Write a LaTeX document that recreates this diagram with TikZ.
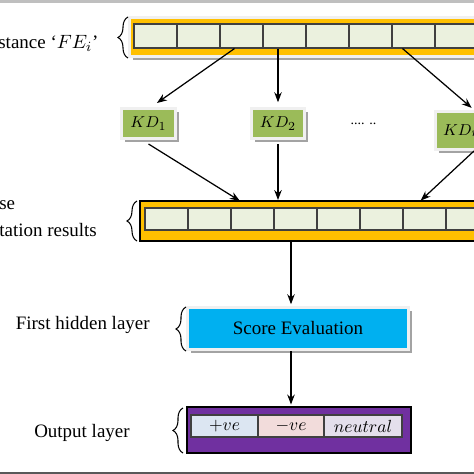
\documentclass[tikz,border=0pt]{standalone}
\usepackage{fontspec}
\setmainfont{Liberation Serif}
\usepackage{tikz}
\usetikzlibrary{arrows.meta, positioning, calc, shadows, decorations.pathreplacing}

\definecolor{barorange}{HTML}{FFC000}
\definecolor{cellfill}{HTML}{EBF1DE}
\definecolor{cellline}{HTML}{404040}
\definecolor{kdgreen}{HTML}{9BBB59}
\definecolor{scorecyan}{HTML}{00B0F0}
\definecolor{outpurple}{HTML}{7030A0}
\definecolor{framegray}{HTML}{F0F0F0}
\definecolor{shadowgray}{HTML}{A3A3A3}
\definecolor{posblue}{HTML}{DCE6F2}
\definecolor{negpink}{HTML}{F2DCDB}
\definecolor{neulav}{HTML}{E4DFEC}
\definecolor{topband}{HTML}{BFBFBF}
\definecolor{botband}{HTML}{595959}

\begin{document}
\begin{tikzpicture}[x=0.02cm, y=-0.02cm,
  every node/.style={font=\fontsize{10.8}{14.2}\selectfont},
  framed/.style={draw=framegray, line width=0.06cm,
    drop shadow={shadow xshift=0.07cm, shadow yshift=-0.07cm, fill=shadowgray, opacity=1}},
  cell/.style={draw=cellline, fill=cellfill, line width=0.6pt, minimum width=0.86cm, inner sep=0pt},
  kdbox/.style={framed, fill=kdgreen, minimum width=1.08cm, minimum height=0.6cm, inner sep=0pt, font=\fontsize{9.5}{12}\selectfont},
  outcell/.style={draw=cellline, line width=0.6pt, minimum height=0.44cm, inner sep=0pt, font=\fontsize{10}{12}\selectfont},
  arr/.style={-{Stealth[length=0.2cm, width=0.15cm]}, line width=0.7pt, shorten >=1pt},
  brc/.style={decorate, decoration={brace, amplitude=0.2cm}, line width=0.6pt},
  lbl/.style={inner sep=0pt}]
\useasboundingbox (0,0) rectangle (474,474);
\clip (0,0) rectangle (474,474);

% grey bands
\fill[topband] (0,0) rectangle (474,3);
\fill[botband] (0,472) rectangle (474,474);

% input instance
\node[framed, fill=barorange, minimum width=7.81cm, minimum height=0.78cm] (inst) at (324.75,37) {};
\foreach \i in {1,...,9}
  \node[cell, minimum height=0.48cm] (t\i) at ({112.5+43*\i},36) {};
\draw[brc] (128,58) -- (128,17);
\node[lbl, anchor=west] (instlbl) at (-2,43) {stance `$FE_i$'};

% knowledge discovery
\node[kdbox] (kd1) at (148.5,123.5) {$KD_1$};
\node[kdbox] (kd2) at (278,123.5) {$KD_2$};
\node[right=0.76cm of kd2, font=\fontsize{8}{10}\selectfont] (dots) {.... ..};
\node[kdbox, minimum height=0.76cm] (kdn) at (462,130.5) {$KD_n$};

\draw[arr] ($(t3.south)+(-7,0)$) -- ($(kd1.north)+(7,-3)$);
\draw[arr] ($(t4.south)+(-6.5,0)$) -- ($(kd2.north)+(0,-3)$);
\draw[arr] ($(t7.south)+(-11,0)$) -- ($(kdn.north)+(11,-1)$);

% results
\node[draw=black, line width=0.8pt, fill=barorange, minimum width=7.6cm, minimum height=0.8cm] (res) at (330,221) {};
\foreach \i in {1,...,9}
  \node[cell, minimum height=0.44cm] (r\i) at ({123.5+43*\i},219) {};
\draw[brc] (137,241) -- (137,201);
\node[lbl, anchor=west] (reslbl) at (-1,230) {tation results};
\node[lbl, anchor=west] (reslbltop) at (-1,205) {se};

\draw[arr] ($(kd1.south)+(0,4)$) -- ($(res.north west)+(102,1.5)$);
\draw[arr] ($(kd2.south)+(0,4)$) -- ($(kd2.south |- res.north)+(0,1.5)$);
\draw[arr] ($(kdn.south)+(12,0)$) -- ($(res.north west)+(280,1.5)$);

% first hidden layer
\node[framed, fill=scorecyan, minimum width=4.42cm, minimum height=0.84cm] (score) at (298,328.5) {Score Evaluation};
\draw[brc] (186,351) -- (186,307);
\node[lbl, anchor=east] (hidlbl) at (150,325) {First hidden layer};
\coordinate (sx) at ($(score.north)+(-7,0)$);
\draw[arr] (res.south -| sx) -- (sx);

% output layer
\node[draw=black, line width=0.8pt, fill=outpurple, minimum width=4.48cm, minimum height=0.92cm] (outl) at (299,430) {};
\node[outcell, fill=posblue, minimum width=1.34cm] (pos) at (224.5,426) {$+ve$};
\node[outcell, fill=negpink, minimum width=1.32cm] (neg) at (291,426) {$-ve$};
\node[outcell, fill=neulav, minimum width=1.56cm] (neu) at (363,426) {$neutral$};
\draw[brc] (183,453) -- (183,408);
\node[lbl, anchor=east] (outlbl) at (130,433) {Output layer};
\draw[arr] (score.south -| sx) -- (outl.north -| sx);
\end{tikzpicture}
\end{document}
